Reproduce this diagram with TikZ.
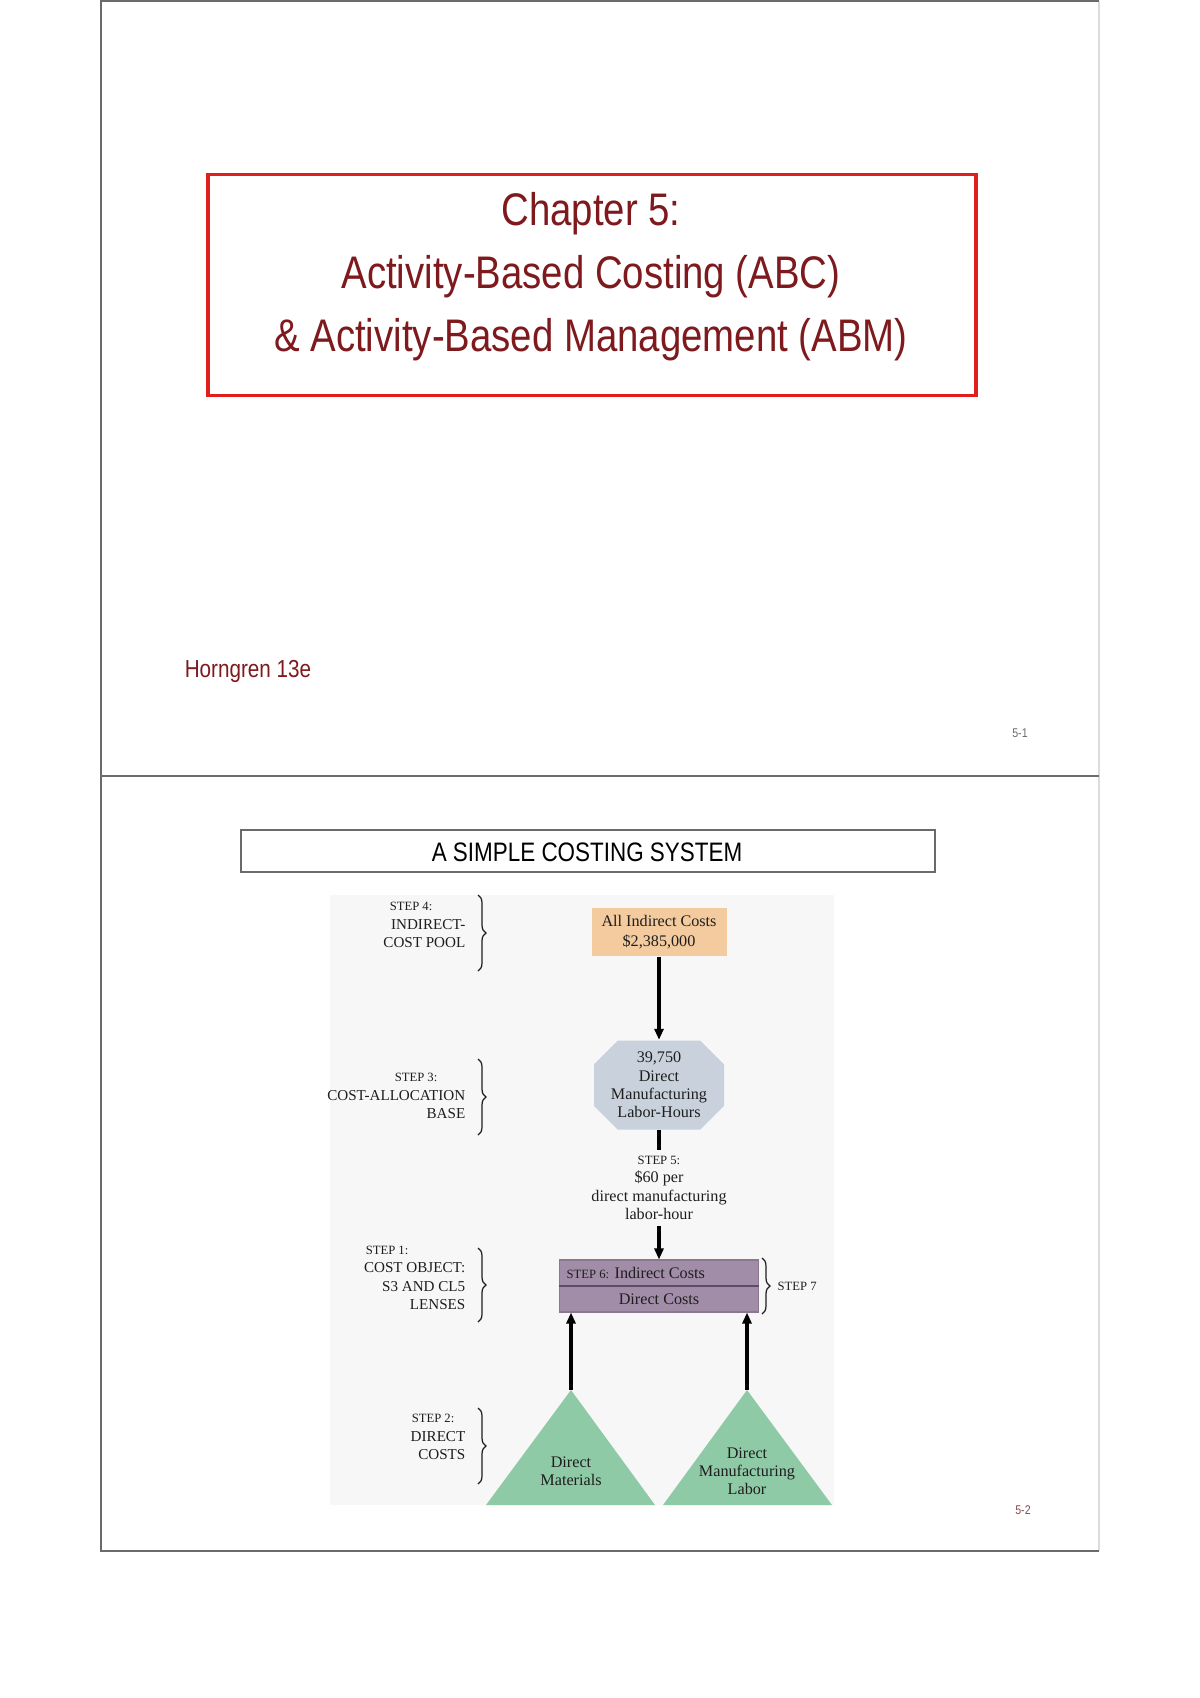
\documentclass[tikz,border=0pt]{standalone}
\usepackage{fontspec}
\setmainfont{Liberation Serif}
\newfontfamily\slidesans[FakeStretch=0.84]{Liberation Sans}
\usetikzlibrary{arrows.meta,calc,positioning,shapes.misc,decorations.pathreplacing}
\definecolor{SlideRed}{HTML}{E11D1D}
\definecolor{SlideMaroon}{HTML}{7E1A1E}
\definecolor{FrameDark}{HTML}{6A6A6A}
\definecolor{FrameLight}{HTML}{DCDCDC}
\definecolor{FigInk}{HTML}{1E1E1E}
\definecolor{FigBack}{HTML}{F7F7F7}
\definecolor{PoolTan}{HTML}{F3CB9E}
\definecolor{BaseGray}{HTML}{C9D2DC}
\definecolor{ObjMauve}{HTML}{A28DA8}
\definecolor{ObjLine}{HTML}{5F4A68}
\definecolor{DirGreen}{HTML}{8FCAA6}
\definecolor{PageInk}{HTML}{8A4A50}
\newcommand\figfont{\fontsize{4.6}{5.2}\selectfont}
\newcommand\capsfont{\fontsize{4.3}{5.2}\selectfont}
\newcommand\stepfont{\fontsize{3.6}{5.2}\selectfont}
\tikzset{
  every node/.style={text=FigInk, inner sep=0pt},
  frameline/.style={draw=FrameDark, line width=0.55pt},
  frameedge/.style={draw=FrameLight, line width=0.7pt},
  chapterbox/.style={draw=SlideRed, line width=1.1pt, minimum width=76.8mm, minimum height=22.1mm},
  headbox/.style={draw=FrameDark, line width=0.45pt, fill=white, minimum width=69.4mm, minimum height=4.2mm},
  poolbox/.style={fill=PoolTan, minimum width=13.5mm, minimum height=4.8mm, align=center,
    font=\fontsize{4.6}{5.6}\selectfont},
  basebox/.style={chamfered rectangle, chamfered rectangle xsep=1.3mm, fill=BaseGray,
    minimum width=13mm, minimum height=8.9mm, align=center, font=\figfont},
  objbox/.style={fill=ObjMauve, draw=ObjMauve!85!black, line width=0.3pt, minimum width=19.9mm, minimum height=5.2mm},
  directcost/.style={fill=DirGreen},
  steplabel/.style={anchor=east, align=right, font=\capsfont},
  stepbrace/.style={decorate, decoration={brace, amplitude=0.8mm}, draw=FigInk, line width=0.35pt},
  flow/.style={-{Triangle[length=1.1mm,width=0.9mm]}, draw=black, line width=1.1pt},
  link/.style={draw=black, line width=1.1pt},
}
\begin{document}
\begin{tikzpicture}[x=0.1mm,y=-0.1mm]
  \useasboundingbox (0,0) rectangle (1200,1698);
  % slide frames
  \draw[frameedge] (1099,1) -- (1099,1551);
  \draw[frameline] (1099,1) -- (101,1) -- (101,1551) -- (1099,1551);
  \draw[frameline] (101,776) -- (1099,776);
  % Slide 1: chapter title
  \node[chapterbox] (chapterbox) at (592,285) {};
  \node[align=center, text=SlideMaroon, font=\slidesans\fontsize{13}{17.9}\selectfont] (chaptitle) at (591,277)
    {Chapter 5:\\Activity-Based Costing (ABC)\\\& Activity-Based Management (ABM)};
  \node[text=SlideMaroon, font=\slidesans\fontsize{7}{8}\selectfont] (horngren) at (248,671) {Horngren 13e};
  \node[text=FrameDark, font=\slidesans\fontsize{3.6}{4}\selectfont] (pageone) at (1020,733) {5-1};
  % Slide 2: heading
  \node[headbox] (simplehead) at (588,851) {};
  \node[text=black, font=\slidesans\fontsize{7.6}{9}\selectfont] (headtext) at (587,852) {A SIMPLE COSTING SYSTEM};
  \fill[FigBack] (330,895) rectangle (834,1505);
  % cost pool, allocation base, rate
  \node[poolbox] (pool) at (659,932) {All Indirect Costs\\\$2,385,000};
  \node[basebox] (base) at (659,1085) {39,750\\Direct\\Manufacturing\\Labor-Hours};
  \node[align=center, font=\figfont, inner ysep=0.6mm] (rate) at (659,1188)
    {{\stepfont STEP 5:}\\\$60 per\\direct manufacturing\\labor-hour};
  % cost object
  \node[objbox] (costobj) at (659,1286) {};
  \draw[ObjLine, line width=0.75pt] (costobj.west) -- (costobj.east);
  \node[anchor=west, font=\figfont] (stepsix) at (566,1273) {{\stepfont STEP 6:} Indirect Costs};
  \node[font=\figfont] (directpart) at (659,1299) {Direct Costs};
  \node[anchor=west, font=\stepfont] (stepseven) at (777,1286) {STEP 7};
  \draw[stepbrace] (762,1258) -- (762,1314);
  % direct costs
  \coordinate (dmapex) at (571,1390);
  \coordinate (dlapex) at (747,1390);
  \fill[directcost] (486,1505) -- (dmapex) -- (655,1505) -- cycle;
  \fill[directcost] (663,1505) -- (dlapex) -- (832,1505) -- cycle;
  \node[align=center, font=\figfont] (dmat) at (571,1471) {Direct\\Materials};
  \node[align=center, font=\figfont] (dlab) at (747,1471) {Direct\\Manufacturing\\Labor};
  % connectors
  \draw[flow] (pool.south) -- (base.north);
  \draw[link] (base.south) -- (rate.north);
  \draw[flow] (rate.south) -- (costobj.north);
  \draw[flow] (dmapex) -- (dmapex |- costobj.south);
  \draw[flow] (dlapex) -- (dlapex |- costobj.south);
  % step labels on the left
  \node[steplabel] (stepfour) at (466,925) {{\stepfont STEP 4:}\hspace*{3.3mm}\\INDIRECT-\\COST POOL};
  \node[steplabel] (stepthree) at (466,1096) {{\stepfont STEP 3:}\hspace*{2.8mm}\\COST-ALLOCATION\\BASE};
  \node[steplabel] (stepone) at (466,1278) {{\stepfont STEP 1:}\hspace*{5.7mm}\\COST OBJECT:\\S3 AND CL5\\LENSES};
  \node[steplabel] (steptwo) at (466,1437) {{\stepfont STEP 2:}\hspace*{1.1mm}\\DIRECT\\COSTS};
  \draw[stepbrace] (478,895) -- (478,971);
  \draw[stepbrace] (478,1059) -- (478,1135);
  \draw[stepbrace] (478,1248) -- (478,1322);
  \draw[stepbrace] (478,1408) -- (478,1484);
  \node[text=PageInk, font=\slidesans\fontsize{3.6}{4}\selectfont] (pagetwo) at (1023,1510) {5-2};
\end{tikzpicture}
\end{document}
